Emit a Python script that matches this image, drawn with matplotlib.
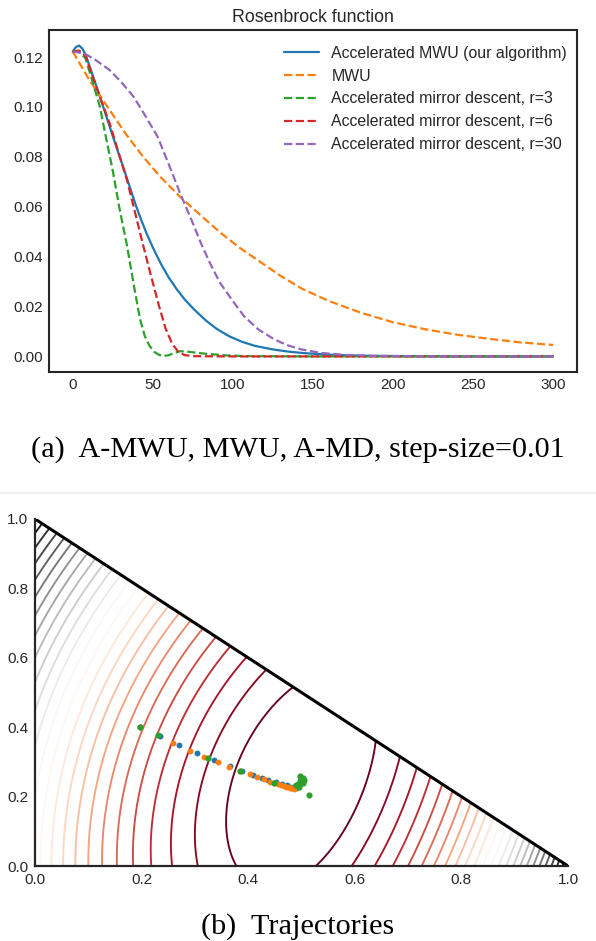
import numpy as np
import matplotlib
matplotlib.use("Agg")
import matplotlib.pyplot as plt
from matplotlib.patches import Polygon
from matplotlib.lines import Line2D
import seaborn as sns

sns.set_style("white")
plt.rcParams["font.family"] = ["Liberation Sans", "DejaVu Sans"]
plt.rcParams["text.color"] = ".15"

SERIF = ["Liberation Serif", "DejaVu Serif"]

# ---------------------------------------------------------------------------
# (a) loss curves
# ---------------------------------------------------------------------------
amwu_t = [0, 2, 4, 6, 8, 11, 14, 17, 20, 24, 28, 32, 36, 39, 42, 46, 50, 55,
          60, 65, 70, 76, 83, 90, 98, 106, 114, 125, 135, 145, 160, 180, 210,
          250, 300]
amwu_v = [0.1222, 0.1240, 0.1246, 0.1234, 0.1210, 0.1155, 0.1098, 0.1040,
          0.0982, 0.0903, 0.0826, 0.0750, 0.0672, 0.0614, 0.0560, 0.0495,
          0.0437, 0.0372, 0.0316, 0.0269, 0.0228, 0.0187, 0.0145, 0.0110,
          0.0080, 0.0058, 0.0042, 0.0028, 0.0019, 0.0013, 0.0007, 0.0003,
          0.0001, 0.0, 0.0]

mwu_t = [0, 10, 23, 33, 44, 55, 67, 80, 92, 105, 118, 130, 143, 160, 180,
         200, 220, 240, 262, 280, 300]
mwu_v = [0.1222, 0.1112, 0.0988, 0.0893, 0.0800, 0.0718, 0.0640, 0.0565,
         0.0497, 0.0432, 0.0375, 0.0322, 0.0272, 0.0222, 0.0175, 0.0137,
         0.0109, 0.0087, 0.0069, 0.0056, 0.0046]

amd3_t = [0, 4, 8, 12, 17, 21, 25, 29, 34, 38, 42, 45, 48, 51, 54, 57, 60,
          63, 67, 72, 81, 96, 110, 150, 300]
amd3_v = [0.1222, 0.1222, 0.1195, 0.1110, 0.1000, 0.0870, 0.0745, 0.0600,
          0.0441, 0.0292, 0.0150, 0.0082, 0.0042, 0.0018, 0.0006, 0.0002,
          0.0005, 0.0013, 0.0021, 0.0019, 0.0012, 0.0004, 0.0001, 0.0, 0.0]

amd6_t = [0, 4, 8, 12, 17, 23, 28, 34, 39, 44, 49, 54, 58, 62, 66, 70, 76,
          100, 300]
amd6_v = [0.1222, 0.1226, 0.1205, 0.1130, 0.1040, 0.0935, 0.0830, 0.0705,
          0.0575, 0.0445, 0.0320, 0.0200, 0.0112, 0.0052, 0.0018, 0.0005,
          0.0001, 0.0, 0.0]

amd30_t = [0, 4, 9, 15, 23, 30, 38, 45, 53, 60, 67, 74, 80, 86, 92, 100, 107,
           116, 126, 134, 143, 155, 170, 190, 220, 260, 300]
amd30_v = [0.1222, 0.1218, 0.1208, 0.1185, 0.1148, 0.1102, 0.1041, 0.0968,
           0.0881, 0.0770, 0.0655, 0.0550, 0.0455, 0.0370, 0.0295, 0.0222,
           0.0161, 0.0108, 0.0068, 0.0045, 0.0028, 0.0014, 0.0006, 0.0002,
           0.0001, 0.0, 0.0]

# ---------------------------------------------------------------------------
# (b) objective on the simplex: f(x, y) = (A - x)^2 + B (y - x^2)^2
# ---------------------------------------------------------------------------
ROSEN_A = 0.5
ROSEN_B = 0.25
LEVEL_STEP = 0.02
LEVEL_MAX = 0.48

amwu_x = [0.197, 0.235, 0.270, 0.304, 0.336, 0.365, 0.388, 0.409, 0.425,
          0.438, 0.452, 0.463, 0.472, 0.479, 0.484, 0.487, 0.489]
amwu_y = [0.401, 0.375, 0.349, 0.327, 0.305, 0.287, 0.273, 0.262, 0.254,
          0.248, 0.241, 0.236, 0.232, 0.229, 0.227, 0.226, 0.225]

mwu_x = [0.197, 0.259, 0.290, 0.317, 0.343, 0.364, 0.385, 0.403, 0.416,
         0.429, 0.440, 0.449, 0.456, 0.462, 0.467, 0.471, 0.475, 0.478,
         0.481, 0.484, 0.486]
mwu_y = [0.401, 0.354, 0.332, 0.315, 0.299, 0.286, 0.275, 0.264, 0.256,
         0.250, 0.243, 0.239, 0.236, 0.233, 0.231, 0.229, 0.227, 0.226,
         0.225, 0.224, 0.223]

amd_x = [0.197, 0.231, 0.325, 0.385, 0.448, 0.490, 0.500, 0.497, 0.502,
         0.495, 0.515, 0.500, 0.503, 0.498, 0.493, 0.505]
amd_y = [0.401, 0.378, 0.310, 0.275, 0.240, 0.232, 0.250, 0.245, 0.238,
         0.228, 0.205, 0.240, 0.255, 0.258, 0.236, 0.247]


def rosenbrock(x, y):
    return (ROSEN_A - x) ** 2 + ROSEN_B * (y - x ** 2) ** 2


fig = plt.figure(figsize=(5.96, 9.41), dpi=100)

# --- panel (a) ---
ax1 = fig.add_axes([0.0817, 0.6047, 0.8866, 0.3634])
ax1.plot(amwu_t, amwu_v, color="#1f77b4", lw=1.6, label="Accelerated MWU (our algorithm)")
ax1.plot(mwu_t, mwu_v, "--", color="#ff7f0e", lw=1.6, label="MWU")
ax1.plot(amd3_t, amd3_v, "--", color="#2ca02c", lw=1.6, label="Accelerated mirror descent, r=3")
ax1.plot(amd6_t, amd6_v, "--", color="#d62728", lw=1.6, label="Accelerated mirror descent, r=6")
ax1.plot(amd30_t, amd30_v, "--", color="#9467bd", lw=1.6, label="Accelerated mirror descent, r=30")
ax1.set_title("Rosenbrock function", fontsize=12.8, pad=6)
ax1.set_yticks([0.00, 0.02, 0.04, 0.06, 0.08, 0.10, 0.12])
ax1.set_xticks([0, 50, 100, 150, 200, 250, 300])
ax1.tick_params(labelsize=11, length=0, pad=4)
for s in ax1.spines.values():
    s.set_linewidth(1.5)
    s.set_color(".15")
ax1.legend(loc="upper right", bbox_to_anchor=(0.993, 0.973), borderaxespad=0,
           frameon=False, fontsize=11.4, handlelength=2.2, labelspacing=0.5)

fig.text(0.5, 1 - 457 / 941, "(a)  A-MWU, MWU, A-MD, step-size=0.01",
         ha="center", va="baseline", fontsize=21.8, family=SERIF, color="black")

# --- panel (b) ---
ax2 = fig.add_axes([0.0587, 0.0797, 0.8943, 0.3688])
gx, gy = np.meshgrid(np.linspace(0, 1, 500), np.linspace(0, 1, 500))
gz = rosenbrock(gx, gy)
levels = np.arange(LEVEL_STEP, LEVEL_MAX + 1e-9, LEVEL_STEP)
cs = ax2.contour(gx, gy, gz, levels=levels, cmap="RdGy", linewidths=1.35)
tri = Polygon([[0, 0], [1, 0], [0, 1]], closed=True, transform=ax2.transData,
              fill=False, edgecolor="none")
ax2.add_patch(tri)
cs.set_clip_path(tri)
ax2.plot([0, 1], [1, 0], color="black", lw=2.2, solid_capstyle="butt")

ax2.scatter(amwu_x, amwu_y, s=18, color="#1f77b4", zorder=3, linewidths=0)
ax2.scatter(mwu_x, mwu_y, s=18, color="#ff7f0e", zorder=3, linewidths=0)
ax2.scatter(amd_x, amd_y, s=20, color="#2ca02c", zorder=4, linewidths=0)

ax2.set_xlim(0, 1)
ax2.set_ylim(0, 1)
ax2.set_xticks(np.linspace(0, 1, 6))
ax2.set_yticks(np.linspace(0, 1, 6))
ax2.tick_params(labelsize=11, length=0, pad=5)
ax2.spines["top"].set_visible(False)
ax2.spines["right"].set_visible(False)
for side in ["left", "bottom"]:
    ax2.spines[side].set_linewidth(1.6)
    ax2.spines[side].set_color(".15")

fig.add_artist(Line2D([0, 1], [1 - 493 / 941] * 2, color="#f0f0f0", lw=1.5))

fig.text(0.5, 1 - 934 / 941, "(b)  Trajectories", ha="center", va="baseline",
         fontsize=21.8, family=SERIF, color="black")

fig.savefig("out.png", dpi=100)
